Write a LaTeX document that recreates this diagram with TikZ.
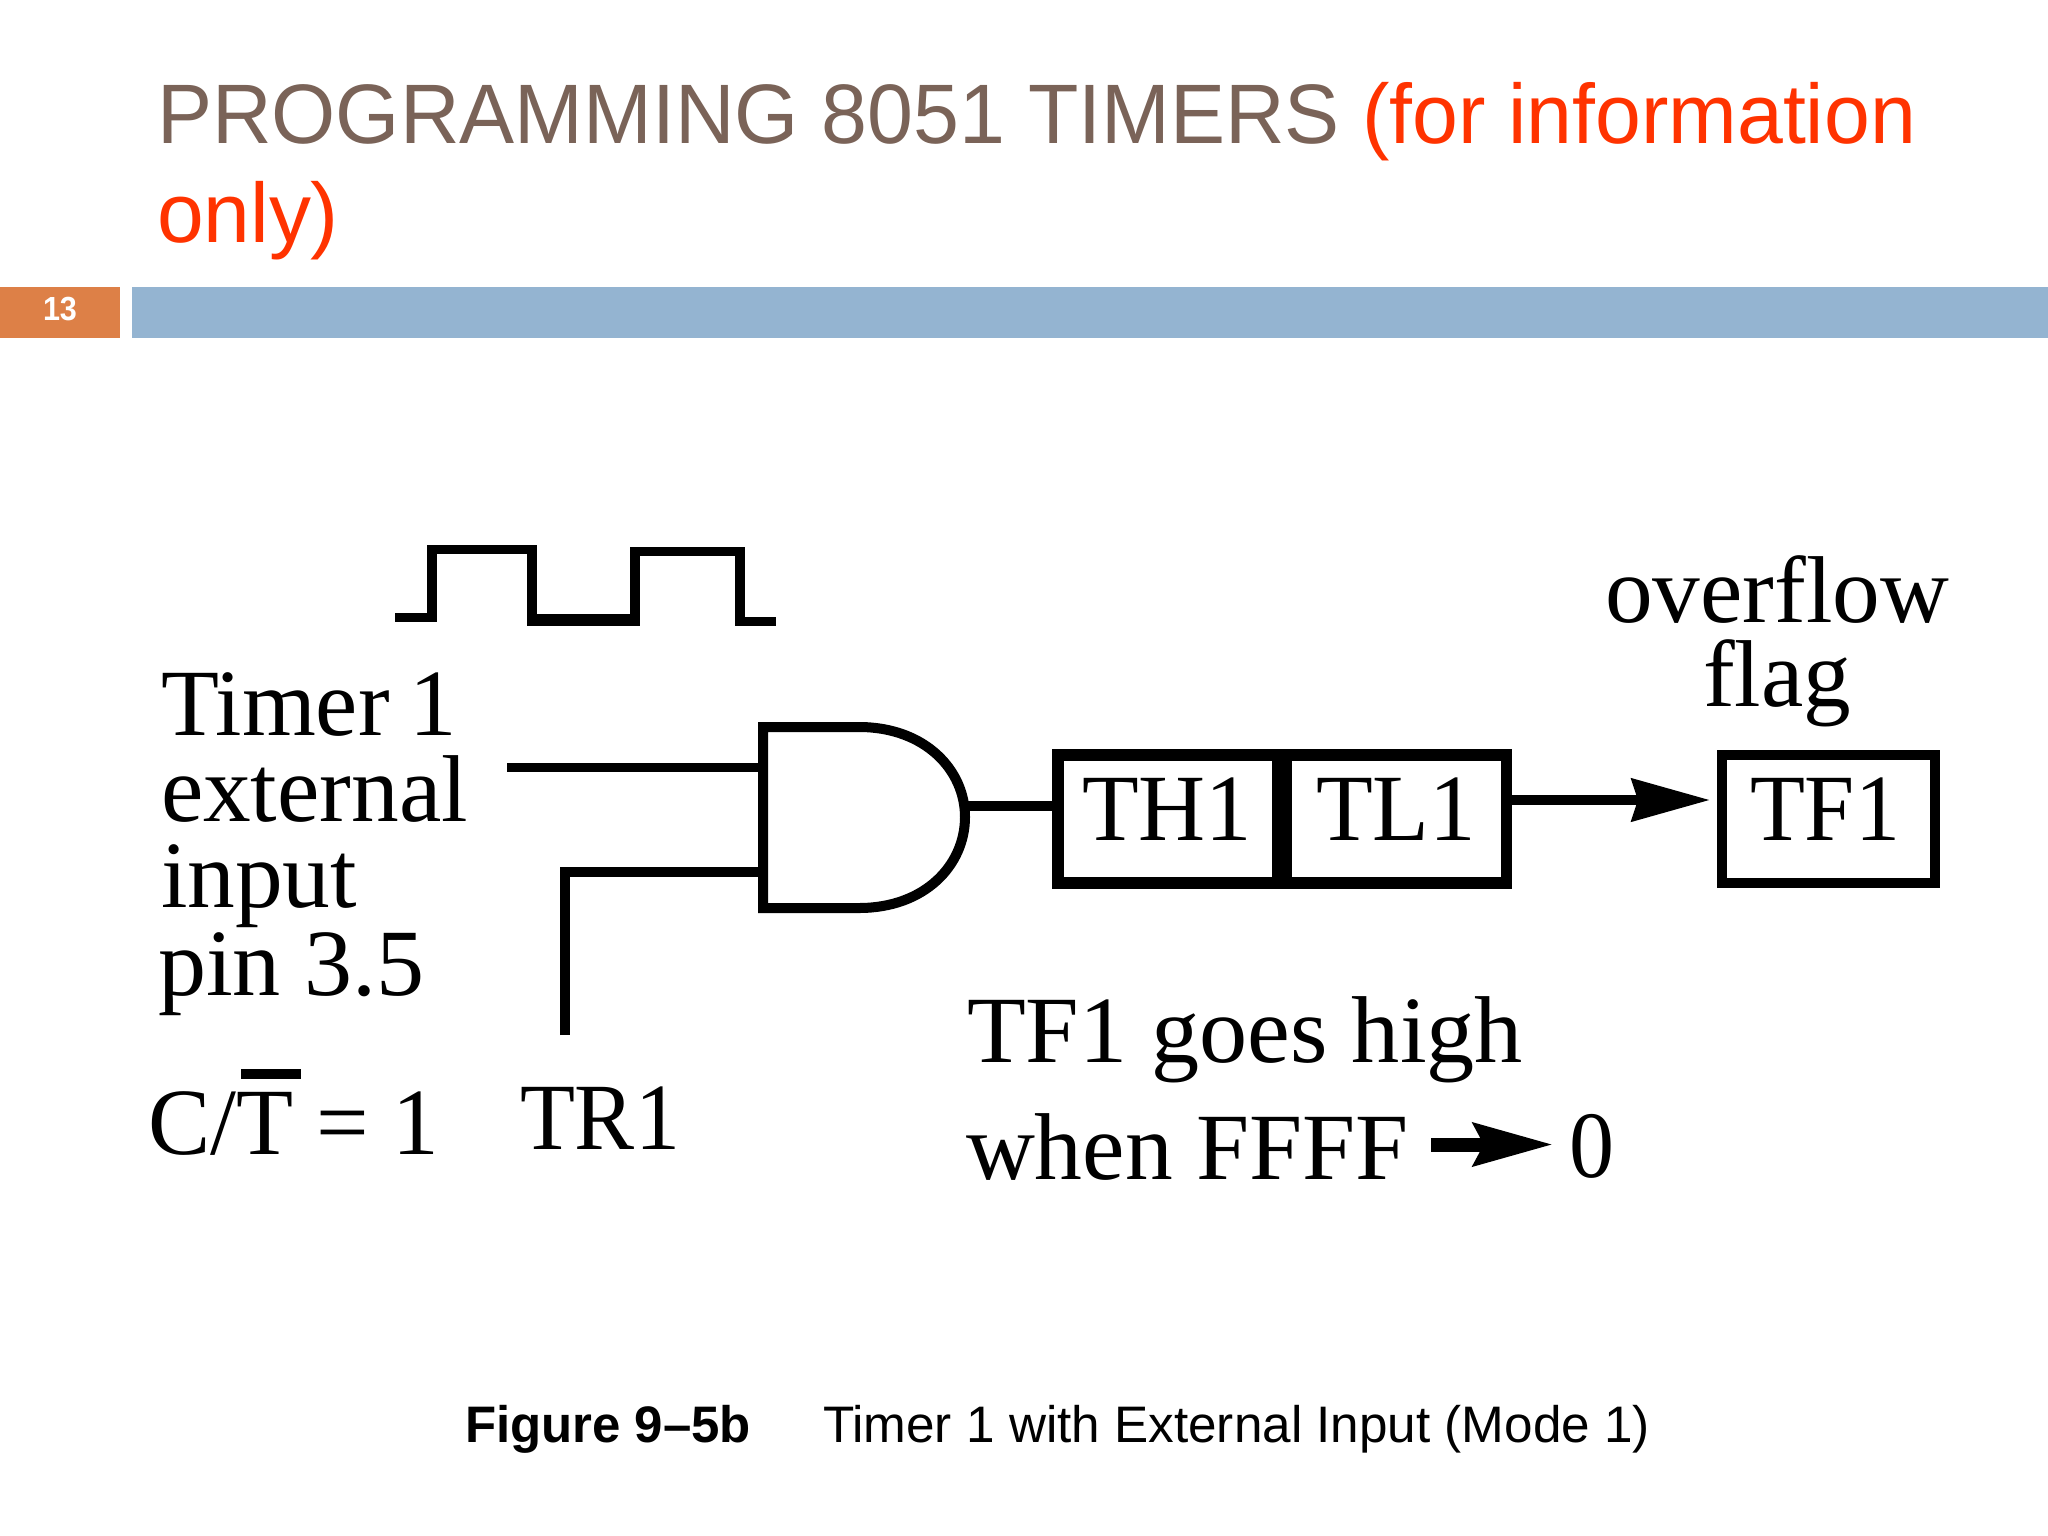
\documentclass[tikz,border=0pt]{standalone}
\usepackage{fontspec}
\usepackage{graphicx}
\setmainfont{Liberation Serif}
\newfontfamily\sansf{Liberation Sans}
\usetikzlibrary{arrows.meta}
\definecolor{titlebrown}{HTML}{7A6358}
\definecolor{titlered}{HTML}{FF3300}
\definecolor{barblue}{HTML}{94B4D1}
\definecolor{barorange}{HTML}{DD8047}
\newlength\pxu \setlength\pxu{0.01cm}
\newcommand\fit[2]{\resizebox{#1\pxu}{\height}{#2}}
\tikzset{
  txt/.style={inner sep=0pt,outer sep=0pt,anchor=base west,font=\fontsize{27}{30}\selectfont,text=black},
  ttl/.style={inner sep=0pt,outer sep=0pt,anchor=base west,font=\sansf\fontsize{24}{28}\selectfont},
  capt/.style={inner sep=0pt,outer sep=0pt,anchor=base west,font=\sansf\fontsize{14.6}{17}\selectfont,text=black},
  reg/.style={draw=black,line width=0.115cm,fill=none,inner sep=0pt,outer sep=0pt,rectangle,minimum height=1.28cm},
  wire/.style={draw=black,line width=0.095cm},
  bar/.style={inner sep=0pt,outer sep=0pt,minimum height=0.51cm,anchor=north west},
  bigarrow/.style={draw=black,line width=0.1cm,-{Stealth[length=0.78cm,width=0.42cm,inset=0.06cm]}},
  smallarrow/.style={draw=black,line width=0.14cm,-{Stealth[length=0.79cm,width=0.42cm,inset=0.1cm]}}
}
\begin{document}
\begin{tikzpicture}[x=0.01cm,y=-0.01cm]
\useasboundingbox (0,0) rectangle (2048,1536);
\fill[white] (0,0) rectangle (2048,1536);
% title
\node[ttl,text=titlebrown] (t1) at (157,143) {\fit{1183}{PROGRAMMING 8051 TIMERS}};
\node[ttl,text=titlered] (t2) at (1362,143) {\fit{554}{(for information}};
\node[ttl,text=titlered] (t3) at (157,242) {\fit{182}{only)}};
% bars
\node[bar,fill=barorange,minimum width=1.2cm] (numbar) at (0,287) {};
\node[bar,fill=barblue,minimum width=19.16cm] (bluebar) at (132,287) {};
\node[inner sep=0pt,text=white,font=\sansf\bfseries\fontsize{9.5}{11}\selectfont] (pg) at (60,309) {\fit{34}{13}};
% pulse train
\draw[line width=0.095cm] (395,617.5) -- (432,617.5) -- (432,549.5) -- (532,549.5) -- (532,620);
\draw[line width=0.115cm] (527,620) -- (640,620);
\draw[line width=0.095cm] (635,620) -- (635,551.5) -- (740,551.5) -- (740,621.5) -- (776,621.5);
% gate
\coordinate (gA) at (763,767.5);
\coordinate (gB) at (763,872);
\coordinate (gO) at (965,806);
\coordinate (inA) at (507,767.5);
\coordinate (inB) at (565,1035);
\coordinate (inBc) at (565,872);
\draw[line width=0.1cm,line join=miter] (763,727) -- (859,727)
  .. controls (925,727) and (965,770) .. (965,817)
  .. controls (965,865) and (925,908) .. (859,908) -- (763,908) -- cycle;
\draw[wire] (inA) -- (gA);
\draw[wire] (inB) -- (inBc) -- (gB);
% registers
\node[reg,minimum width=2.195cm,anchor=north west] (th) at (1058,755) {};
\node[reg,minimum width=2.2cm,anchor=north west] (tl) at (1286.5,755) {};
\node[reg,line width=0.105cm,minimum width=2.13cm,anchor=north west] (tf) at (1722,755) {};
\draw[wire] (gO) -- (gO -| th.west);
\coordinate (arrS) at (1509,800);
\coordinate (arrE) at (1710,800);
\draw[bigarrow] (arrS) -- (arrE);
% labels
\node[txt] (l1) at (161,735) {\fit{296}{Timer\hspace{0.21em}1}};
\node[txt] (l2) at (161,821) {\fit{307}{external}};
\node[txt] (l3) at (161,907) {\fit{196}{input}};
\node[txt] (l4) at (158,995) {\fit{267}{pin 3.5}};
\node[txt] (l5) at (148,1154) {\fit{291}{C/T = 1}};
\fill[black] (241,1068.5) rectangle (300.5,1078.5);
\node[txt] (l6) at (520,1149) {\fit{160}{TR1}};
\node[txt] (l7) at (1605,622) {\fit{344}{overflow}};
\node[txt] (l8) at (1703,706.5) {\fit{148}{flag}};
\node[txt] (l9) at (1082,840) {\fit{170}{TH1}};
\node[txt] (l10) at (1316,840) {\fit{160}{TL1}};
\node[txt] (l11) at (1750,840) {\fit{150}{TF1}};
\node[txt] (l12) at (967,1062) {\fit{556}{TF1 goes high}};
\node[txt] (l13) at (966,1179) {\fit{443}{when FFFF}};
\node[txt] (l14) at (1569,1177) {\fit{45}{0}};
\coordinate (s1) at (1431,1144.5);
\coordinate (s2) at (1553,1144.5);
\draw[smallarrow] (s1) -- (s2);
% caption
\node[capt,font=\sansf\bfseries\fontsize{14.6}{17}\selectfont] (c1) at (465,1442) {\fit{286}{Figure 9–5b}};
\node[capt] (c2) at (823,1442) {\fit{827}{Timer 1 with External Input (Mode 1)}};
\end{tikzpicture}
\end{document}
